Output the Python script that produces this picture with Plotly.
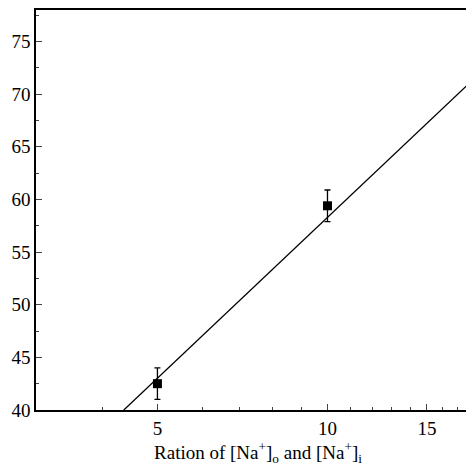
import plotly.graph_objects as go

# data
ratio = [5, 10]
potential = [42.5, 59.4]
err = [1.5, 1.5]
fit_x = [4.36, 19.3]
fit_y = [40.0, 72.8]

fig = go.Figure()
fig.add_trace(go.Scatter(x=fit_x, y=fit_y, mode="lines",
                         line=dict(color="black", width=1.3), showlegend=False))
fig.add_trace(go.Scatter(x=ratio, y=potential, mode="markers",
                         marker=dict(symbol="square", size=9, color="black"),
                         error_y=dict(type="data", array=err, color="black", thickness=1.3, width=3),
                         showlegend=False))

axis_font = dict(family="Liberation Serif", size=19, color="black")
fig.update_layout(
    width=474, height=474,
    margin=dict(l=28, r=0, t=0, b=72),
    plot_bgcolor="white", paper_bgcolor="white",
    font=axis_font,
    xaxis=dict(type="log", range=[0.484, 1.27], tickvals=[5, 10, 15], ticktext=["5", "10", "15"],
               showgrid=False, showline=True, linecolor="black", linewidth=1.5, mirror=True,
               ticks="inside", ticklen=6,
               minor=dict(ticks="inside", ticklen=3, tickvals=[3, 4, 6, 7, 8, 9, 11, 12, 13, 14, 16, 17, 18, 19]),
               title=dict(text="Ration of [Na<sup>+</sup>]<sub>o</sub> and [Na<sup>+</sup>]<sub>i</sub>",
                          font=axis_font, standoff=6)),
    yaxis=dict(range=[40, 78], tickvals=[40, 45, 50, 55, 60, 65, 70, 75],
               showgrid=False, showline=True, linecolor="black", linewidth=1.5, mirror=True,
               ticks="inside", ticklen=6, minor=dict(ticks="inside", ticklen=3, dtick=2.5)),
)
fig.write_html("out.html")
